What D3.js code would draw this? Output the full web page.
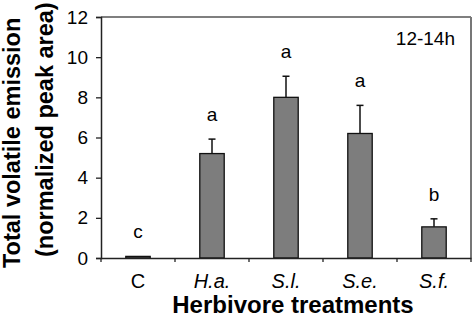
<!DOCTYPE html>
<html>
<head>
<meta charset="utf-8">
<script src="https://cdn.jsdelivr.net/npm/d3@7"></script>
<style>
  body { margin: 0; background: #fff; }
  svg { display: block; font-family: "Liberation Sans", Arial, sans-serif; }
</style>
</head>
<body>
<div id="chart"></div>
<script>
// Herbivore treatments vs total volatile emission (12-14h)
var treatments = ["C", "H.a.", "S.l.", "S.e.", "S.f."];
var italicLabel = [false, true, true, true, true];
var means = [0.08, 5.2, 8.0, 6.2, 1.55];
var errors = [0, 0.72, 1.05, 1.4, 0.4];
var letters = ["c", "a", "a", "a", "b"];
var yTicks = [0, 2, 4, 6, 8, 10, 12];

var svgWidth = 474, svgHeight = 322;
var margin = {top: 17, right: 3, bottom: 64, left: 101};
var width = svgWidth - margin.left - margin.right;
var height = svgHeight - margin.top - margin.bottom;

var svg = d3.select("#chart").append("svg")
  .attr("width", svgWidth)
  .attr("height", svgHeight);

var g = svg.append("g")
  .attr("transform", "translate(" + margin.left + "," + margin.top + ")");

// scales
var x = d3.scaleBand().domain(treatments).range([0, width]).padding(0);
var y = d3.scaleLinear().domain([0, 12]).range([height, 0]);
var barW = x.bandwidth() * 0.33;

// frame top / right
g.append("line")
  .attr("x1", 0).attr("x2", width).attr("y1", 0).attr("y2", 0)
  .attr("stroke", "#555").attr("stroke-width", 1.5);
g.append("line")
  .attr("x1", width).attr("x2", width).attr("y1", 0).attr("y2", height)
  .attr("stroke", "#777").attr("stroke-width", 2);

// bars
g.selectAll(".bar")
  .data(treatments)
  .enter().append("rect")
  .attr("class", "bar")
  .attr("x", function (d) { return x(d) + x.bandwidth() / 2 - barW / 2; })
  .attr("width", barW)
  .attr("y", function (d, i) { return y(means[i]); })
  .attr("height", function (d, i) { return height - y(means[i]); })
  .attr("fill", "#7d7d7d")
  .attr("stroke", "#111")
  .attr("stroke-width", 1.3);

// error bars (upper only)
treatments.forEach(function (d, i) {
  if (errors[i] <= 0) return;
  var cx = x(d) + x.bandwidth() / 2;
  g.append("line")
    .attr("x1", cx).attr("x2", cx)
    .attr("y1", y(means[i])).attr("y2", y(means[i] + errors[i]))
    .attr("stroke", "#111").attr("stroke-width", 1.5);
  g.append("line")
    .attr("x1", cx - 3.5).attr("x2", cx + 3.5)
    .attr("y1", y(means[i] + errors[i])).attr("y2", y(means[i] + errors[i]))
    .attr("stroke", "#111").attr("stroke-width", 1.5);
});

// significance letters
g.selectAll(".sig")
  .data(treatments)
  .enter().append("text")
  .attr("class", "sig")
  .attr("x", function (d) { return x(d) + x.bandwidth() / 2; })
  .attr("y", function (d, i) { return y(means[i] + errors[i]) - 18; })
  .attr("text-anchor", "middle")
  .style("font-size", "19px")
  .text(function (d, i) { return letters[i]; });

// axes
var xAxis = g.append("g")
  .attr("transform", "translate(0," + height + ")")
  .call(d3.axisBottom(x).tickSize(0).tickPadding(0).tickFormat(""));
xAxis.select(".domain").attr("stroke", "#222").attr("stroke-width", 1.5);
xAxis.selectAll(".tick").remove();

// ticks at category boundaries
var bounds = treatments.map(function (d) { return x(d); }).concat([width]);
xAxis.selectAll(".bound")
  .data(bounds)
  .enter().append("line")
  .attr("x1", function (d) { return d; }).attr("x2", function (d) { return d; })
  .attr("y1", 0).attr("y2", 4)
  .attr("stroke", "#222").attr("stroke-width", 1.3);

xAxis.selectAll(".cat")
  .data(treatments)
  .enter().append("text")
  .attr("class", "cat")
  .attr("x", function (d) { return x(d) + x.bandwidth() / 2; })
  .attr("y", 30)
  .attr("text-anchor", "middle")
  .attr("fill", "#000")
  .style("font-size", "20px")
  .style("font-style", function (d, i) { return italicLabel[i] ? "italic" : "normal"; })
  .text(function (d) { return d; });

var yAxis = g.append("g")
  .call(d3.axisLeft(y).tickValues(yTicks).tickSize(5).tickPadding(8));
yAxis.select(".domain").attr("stroke", "#222").attr("stroke-width", 1.5);
yAxis.selectAll(".tick line").attr("stroke", "#222").attr("stroke-width", 1.3);
yAxis.selectAll(".tick text")
  .attr("fill", "#000")
  .style("font-size", "19px")
  .style("font-family", "'Liberation Sans', Arial, sans-serif");

// panel label
svg.append("text")
  .attr("x", 455).attr("y", 45)
  .attr("text-anchor", "end")
  .style("font-size", "19px")
  .text("12-14h");

// axis titles
svg.append("text")
  .attr("x", 293).attr("y", 313)
  .attr("text-anchor", "middle")
  .style("font-size", "24px")
  .style("font-weight", "bold")
  .text("Herbivore treatments");

svg.append("text")
  .attr("transform", "translate(20,268) rotate(-90)")
  .style("font-size", "23.5px")
  .style("font-weight", "bold")
  .text("Total volatile emission");

svg.append("text")
  .attr("transform", "translate(53,257) rotate(-90)")
  .style("font-size", "23.5px")
  .style("font-weight", "bold")
  .text("(normalized peak area)");
</script>
</body>
</html>
